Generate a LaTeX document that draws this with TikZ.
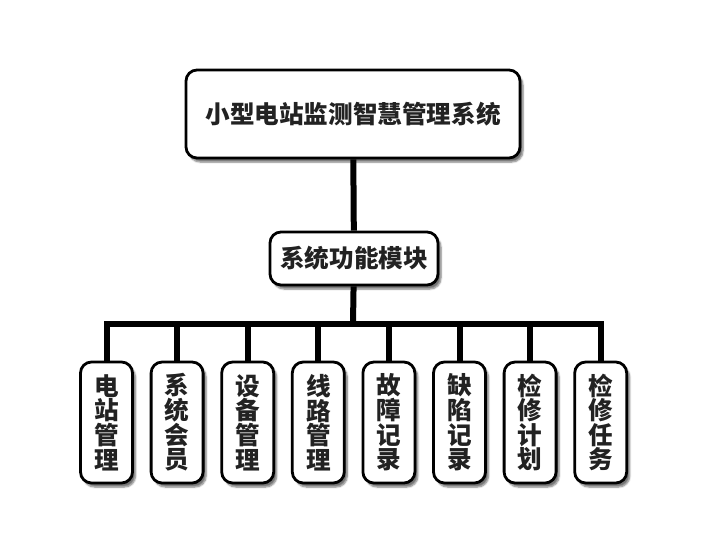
\documentclass[tikz,border=0pt]{standalone}
\usepackage{fontspec}
\newfontfamily\cjk{Noto Sans CJK SC}
\usetikzlibrary{shadows.blur}
\definecolor{inkgray}{HTML}{222222}

\begin{document}
\begin{tikzpicture}[x=1pt, y=-1pt,
  box/.style={draw=black, line width=2.8pt, fill=white, rounded corners=11pt,
    text=inkgray, font=\cjk\bfseries\fontsize{24.6pt}{24.6pt}\selectfont,
    inner sep=0pt, align=center,
    blur shadow={shadow xshift=3pt, shadow yshift=-4pt, shadow blur steps=6, shadow opacity=55}},
  topbox/.style={box, minimum width=334pt, minimum height=88pt},
  modbox/.style={box, minimum width=168pt, minimum height=53pt},
  leafbox/.style={box, minimum width=52pt, minimum height=121pt},
  link/.style={line width=6pt, draw=black}]

  \useasboundingbox (0,0) rectangle (706,558);

  % Titre et module central.
  \node[topbox] (sys) at (353,114) {小型电站监测智慧管理系统};
  \node[modbox] (mod) at (354,258.5) {系统功能模块};
  \coordinate (bus) at (353,323.5);

  \draw[link] (sys) -- (mod);
  \draw[link] (mod) -- (bus);

  % Les huit fonctions.
  \foreach \txt [count=\i] in {电\\站\\管\\理, 系\\统\\会\\员, 设\\备\\管\\理, 线\\路\\管\\理,
                               故\\障\\记\\录, 缺\\陷\\记\\录, 检\\修\\计\\划, 检\\修\\任\\务} {
    \node[leafbox] (f\i) at ({106.5+(\i-1)*70.6},422.5) {\txt};
    \draw[link] (bus) -| (f\i.north);
  }

\end{tikzpicture}
\end{document}
